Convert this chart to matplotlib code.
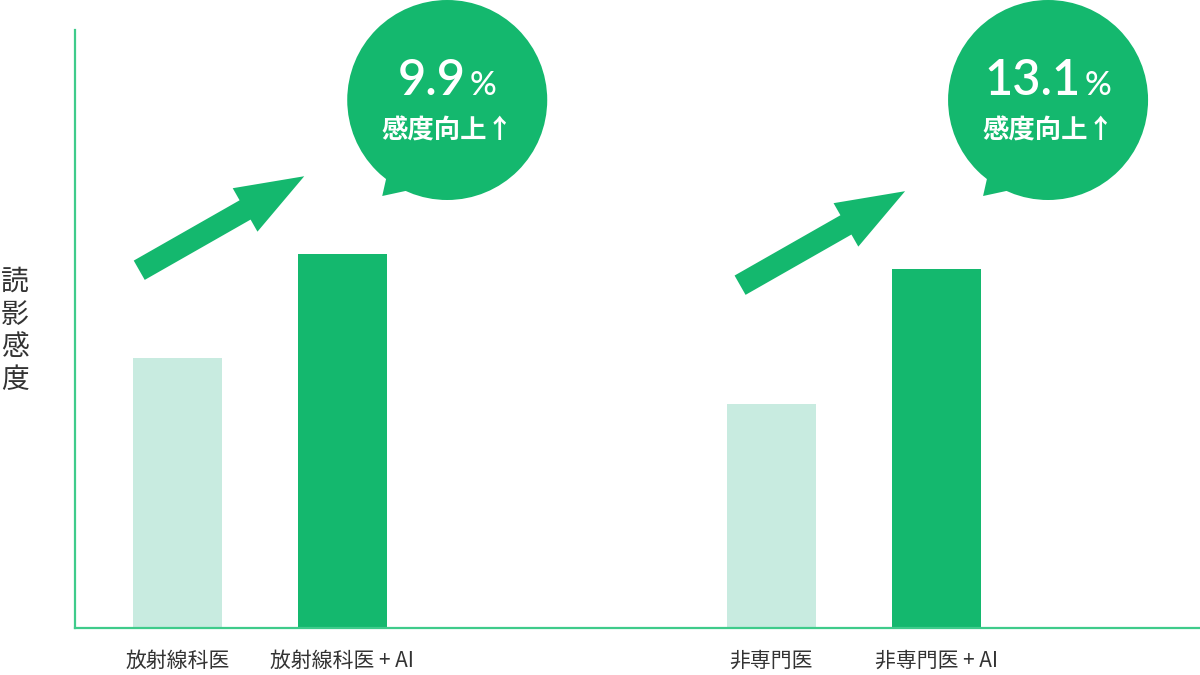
import matplotlib
matplotlib.use("Agg")
import matplotlib.pyplot as plt
from matplotlib.patches import Circle, Polygon

plt.rcParams["font.family"] = ["Noto Sans CJK JP", "DejaVu Sans"]

# data
labels = ["放射線科医", "放射線科医 + AI", "非専門医", "非専門医 + AI"]
sensitivity = [45.2, 62.5, 37.5, 60.0]     # arbitrary units, no axis ticks
gains = ["9.9", "13.1"]
gain_caption = "感度向上↑"
ylabel = "読影感度"

GREEN = "#14b86e"
LIGHT = "#c8ebe0"
SPINE = "#3fcb8b"
TEXT = "#333333"

W, H = 1200, 675
fig = plt.figure(figsize=(W / 100, H / 100), dpi=100)
ax = fig.add_axes([75 / W, 47 / H, 1125 / W, 598 / H])

xpos = [0, 1, 3.6, 4.6]
colors = [LIGHT, GREEN, LIGHT, GREEN]
ax.bar(xpos, sensitivity, width=0.54, color=colors, zorder=2)

ax.set_xlim(-0.62, 6.2)
ax.set_ylim(0, 100)
ax.set_xticks(xpos)
ax.set_xticklabels(labels, fontsize=15, color=TEXT)
ax.tick_params(axis="x", length=0, pad=16)
ax.set_yticks([])
for s in ("top", "right"):
    ax.spines[s].set_visible(False)
for s in ("left", "bottom"):
    ax.spines[s].set_color(SPINE)
    ax.spines[s].set_linewidth(1.6)

fig.text(15 / W, 1 - 331 / H, "\n".join(ylabel), fontsize=20, color=TEXT,
         ha="center", va="center", linespacing=1.12)

# overlay in pixel coordinates (y down) for arrows and speech bubbles
deco = fig.add_axes([0, 0, 1, 1], zorder=5)
deco.set_xlim(0, W)
deco.set_ylim(H, 0)
deco.axis("off")


def to_px(x, y):
    dx, dy = ax.transData.transform((x, y))
    return dx, H - dy


renderer = fig.canvas.get_renderer()
bubble_dx = [105, 112]
arrow_dx = [-38, -31]
for i, g in enumerate(gains):
    bx, by = to_px(xpos[2 * i + 1], sensitivity[2 * i + 1])

    # arrow
    tip = (bx + arrow_dx[i], by - 78)
    tail = (tip[0] - 165, tip[1] + 94)
    deco.annotate("", xy=tip, xytext=tail,
                  arrowprops=dict(arrowstyle="simple,head_length=4.9,head_width=3.6,tail_width=1.6",
                                  mutation_scale=10, color=GREEN, lw=0,
                                  shrinkA=0, shrinkB=0))

    # speech bubble
    cx, cy = bx + bubble_dx[i], 100
    deco.add_patch(Circle((cx, cy), 100, color=GREEN, lw=0))
    deco.add_patch(Polygon([(cx - 65, cy + 96), (cx - 58, cy + 65), (cx - 28, cy + 88)],
                           closed=True, color=GREEN, lw=0))

    num = deco.text(0, 0, g, fontsize=35, color="white", family=["Lato", "DejaVu Sans"],
                    fontweight="semibold", ha="left", va="baseline")
    pct = deco.text(0, 0, "%", fontsize=24, color="white", family=["Lato", "DejaVu Sans"],
                    fontweight="medium", ha="left", va="baseline")
    wn = num.get_window_extent(renderer).width
    wp = pct.get_window_extent(renderer).width
    gap = 4
    x0 = cx - (wn + gap + wp) / 2
    num.set_position((x0, cy - 5))
    pct.set_position((x0 + wn + gap, cy - 5))

    deco.text(cx, cy + 31, gain_caption, fontsize=19, fontweight="bold", color="white",
              ha="center", va="center")

fig.savefig("out.png", dpi=100)
